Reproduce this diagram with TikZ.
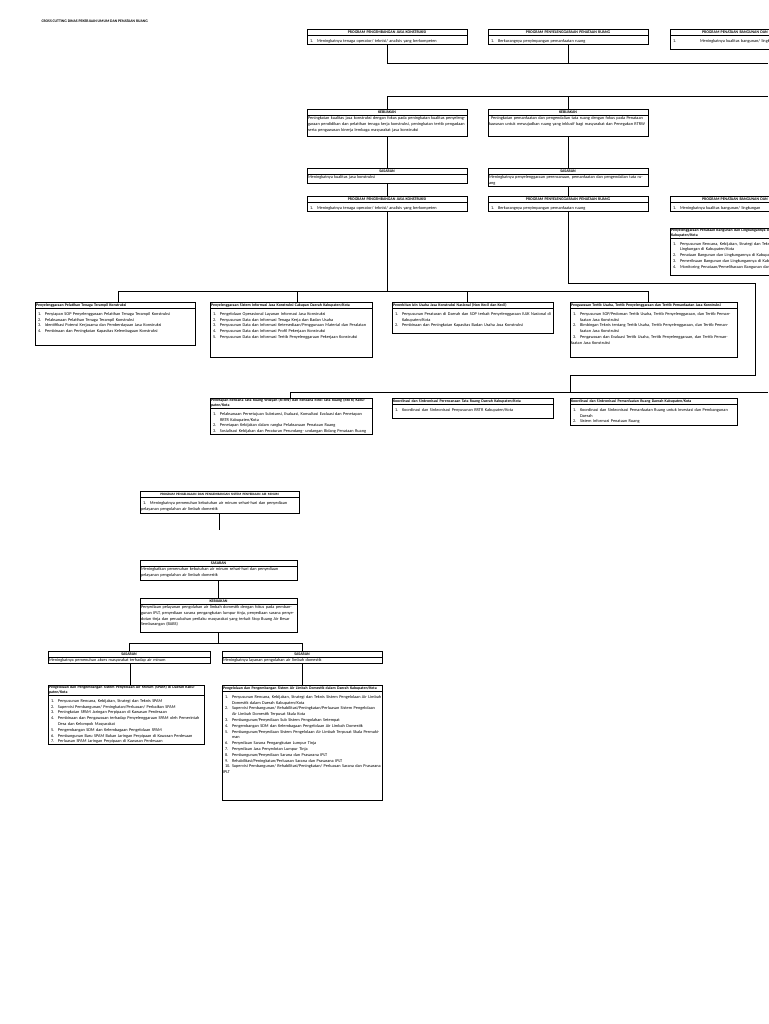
\documentclass[tikz,border=0pt]{standalone}
\usepackage{fontspec}
\usetikzlibrary{fit}
\setmainfont{Carlito}
\begin{document}
\begin{tikzpicture}[x=1pt,y=-1pt,
  every node/.style={font=\fontsize{4.3}{5.8}\selectfont},
  hdr/.style={draw,line width=0.5pt,inner sep=0.6pt,align=center,minimum height=6pt,font=\fontsize{3.9}{4.6}\selectfont\bfseries},
  hdl/.style={draw,line width=0.5pt,inner sep=0.8pt,align=left,minimum height=6pt,font=\fontsize{3.9}{4.8}\selectfont\bfseries},
  bod/.style={inner sep=0.8pt,align=left},
  frame/.style={draw,line width=0.7pt,inner sep=0pt},
  ln/.style={line width=0.8pt}]
\useasboundingbox (0,0) rectangle (768,1024);
\newcommand\itm[1]{\par\hangindent=9pt\hangafter=1\noindent\hspace{2pt}\makebox[7pt][l]{#1}}
\newcommand\bx[8]{%
 \node[#8,text width=#4pt-1.6pt,anchor=north west] (#1h) at (#2,#3) {#6};
 \node[bod,text width=#4pt-1.6pt,anchor=north west] (#1b) at (#1h.south west) {#7};
 \coordinate (#1c) at (#2+#4,#3+#5);
 \node[frame,fit=(#1h)(#1b)(#1c)] (#1) {};}
\node[anchor=west,font=\fontsize{3.8}{4}\selectfont\bfseries] (title) at (38,21) {CROSS CUTTING DINAS PEKERJAAN UMUM DAN PENATAAN RUANG};
\bx{a1}{307}{29}{160}{15}{PROGRAM PENGEMBANGAN JASA KONSTRUKSI}{\itm{1.}Meningkatnya tenaga operator/ teknisi/ analisis yang berkompeten}{hdr}
\bx{b1}{488}{29}{160}{15}{PROGRAM PENYELENGGARAAN PENATAAN RUANG}{\itm{1.}Berkurangnya penyimpangan pemanfaatan ruang}{hdr}
\bx{c1}{670}{29}{160}{20}{PROGRAM PENATAAN BANGUNAN DAN LINGKUNGANNYA}{\itm{1.}\hspace{20pt}Meningkatnya kualitas bangunan/ lingkungan}{hdr}
\coordinate (j1e) at (768,63);
\draw[ln] (a1.south) -- (a1.south |- j1e) -- (j1e); \draw[ln] (b1.south) -- (b1.south |- j1e);
\bx{ka}{307}{109}{160}{27}{KEBIJAKAN}{Peningkatan kualitas jasa konstruksi dengan fokus pada peningkatan kualitas penyelenggaraan pendidikan dan pelatihan tenaga kerja konstruksi, peningkatan tertib pengadaan serta pengawasan kinerja lembaga masyarakat jasa konstruksi}{hdr}
\bx{kb}{488}{109}{160}{27}{KEBIJAKAN}{\hspace{2pt}Peningkatan pemanfaatan dan pengendalian tata ruang dengan fokus pada Penataan kawasan untuk mewujudkan ruang yang inklusif bagi masyarakat dan Penegakan RTRW}{hdr}
\coordinate (j2e) at (768,96);
\draw[ln] (ka.north) -- (ka.north |- j2e) -- (j2e); \draw[ln] (kb.north) -- (kb.north |- j2e);
\bx{sa}{307}{168}{160}{15}{SASARAN}{Meningkatnya kualitas jasa konstruksi}{hdr}
\bx{sb}{488}{168}{160}{18}{SASARAN}{Meningkatnya penyelenggaraan perencanaan, pemanfaatan dan pengendalian tata ruang}{hdr}
\draw[ln] (ka.south) -- (sa.north); \draw[ln] (kb.south) -- (sb.north);
\bx{a2}{307}{196}{160}{12}{PROGRAM PENGEMBANGAN JASA KONSTRUKSI}{\itm{1.}Meningkatnya tenaga operator/ teknisi/ analisis yang berkompeten}{hdr}
\bx{b2}{488}{196}{160}{12}{PROGRAM PENYELENGGARAAN PENATAAN RUANG}{\itm{1.}Berkurangnya penyimpangan pemanfaatan ruang}{hdr}
\bx{c2}{670}{196}{160}{12}{PROGRAM PENATAAN BANGUNAN DAN LINGKUNGANNYA}{\itm{1.}Meningkatnya kualitas bangunan/ lingkungan}{hdr}
\draw[ln] (sa.south) -- (a2.north); \draw[ln] (sb.south) -- (b2.north);
\bx{c3}{670}{228}{160}{47}{Penyelenggaraan Penataan Bangunan dan Lingkungannya di\\Kabupaten/Kota}{\itm{1.}Penyusunan Rencana, Kebijakan, Strategi dan Teknis Pengembangan Bangunan dan Lingkungan di Kabupaten/Kota\itm{2.}Penataan Bangunan dan Lingkungannya di Kabupaten/Kota\itm{3.}Pemeriksaan Bangunan dan Lingkungannya di Kabupaten/Kota\itm{4.}Monitoring Penataan/Pemeliharaan Bangunan dan Lingkungannya}{hdl}
\bx{d1}{35}{302}{160}{43}{Penyelenggaraan Pelatihan Tenaga Terampil Konstruksi}{\itm{1.}Penyiapan SOP Penyelenggaraan Pelatihan Tenaga Terampil Konstruksi\itm{2.}Pelaksanaan Pelatihan Tenaga Terampil Konstruksi\itm{3.}Identifikasi Potensi Kerjasama dan Pemberdayaan Jasa Konstruksi\itm{4.}Pembinaan dan Peningkatan Kapasitas Kelembagaan Konstruksi}{hdl}
\bx{d2}{210}{302}{162}{55}{Penyelenggaraan Sistem Informasi Jasa Konstruksi Cakupan Daerah Kabupaten/Kota}{\itm{1.}Pengelolaan Operasional Layanan Informasi Jasa Konstruksi\itm{2.}Penyusunan Data dan Informasi Tenaga Kerja dan Badan Usaha\itm{3.}Penyusunan Data dan Informasi Ketersediaan/Penggunaan Material dan Peralatan\itm{4.}Penyusunan Data dan Informasi Profil Pekerjaan Konstruksi\itm{5.}Penyusunan Data dan Informasi Tertib Penyelenggaraan Pekerjaan Konstruksi}{hdl}
\bx{d3}{392}{302}{161}{31}{Penerbitan Izin Usaha Jasa Konstruksi Nasional (Non Kecil dan Kecil)}{\itm{1.}Penyusunan Peraturan di Daerah dan SOP terkait Penyelenggaraan IUJK Nasional di Kabupaten/Kota\itm{2.}Pembinaan dan Peningkatan Kapasitas Badan Usaha Jasa Konstruksi}{hdl}
\bx{d4}{570}{302}{167}{55}{Pengawasan Tertib Usaha, Tertib Penyelenggaraan dan Tertib Pemanfaatan Jasa Konstruksi}{\itm{1.}Penyusunan SOP/Pedoman Tertib Usaha, Tertib Penyelenggaraan, dan Tertib Pemanfaatan Jasa Konstruksi\itm{2.}Bimbingan Teknis tentang Tertib Usaha, Tertib Penyelenggaraan, dan Tertib Pemanfaatan Jasa Konstruksi\itm{3.}Pengawasan dan Evaluasi Tertib Usaha, Tertib Penyelenggaraan, dan Tertib Pemanfaatan Jasa Konstruksi}{hdl}
\coordinate (hd) at (389,291);
\coordinate (t1) at (118,302); \coordinate (t2) at (297,302); \coordinate (t3) at (467,302); \coordinate (t4) at (648,302);
\draw[ln] (a2.south) -- (a2.south |- hd);
\draw[ln] (t1) -- (t1 |- hd) -- (t4 |- hd) -- (t4);
\draw[ln] (t2) -- (t2 |- hd); \draw[ln] (t3) -- (t3 |- hd);
\coordinate (p2) at (755,283); \coordinate (p3) at (755,375); \coordinate (p4) at (570,375);
\coordinate (hr) at (570,392); \coordinate (hre) at (768,392); \coordinate (tr1) at (290,398);
\draw[ln] (b2.south) -- (b2.south |- p2) -- (p2) -- (p3) -- (p4) -- (hr);
\draw[ln] (tr1) -- (tr1 |- hr) -- (hre);
\bx{r1}{210}{398}{162}{32}{Penetapan Rencana Tata Ruang Wilayah (RTRW) dan Rencana Rinci Tata Ruang (RRTR) Kabupaten/Kota}{\itm{1.}Pelaksanaan Persetujuan Substansi, Evaluasi, Konsultasi Evaluasi dan Penetapan RRTR Kabupaten/Kota\itm{2.}Penetapan Kebijakan dalam rangka Pelaksanaan Penataan Ruang\itm{3.}Sosialisasi Kebijakan dan Peraturan Perundang- undangan Bidang Penataan Ruang}{hdl}
\bx{r2}{392}{398}{161}{20}{Koordinasi dan Sinkronisasi Perencanaan Tata Ruang Daerah Kabupaten/Kota}{\itm{1.}Koordinasi dan Sinkronisasi Penyusunan RRTR Kabupaten/Kota}{hdl}
\bx{r3}{570}{398}{167}{27}{Koordinasi dan Sinkronisasi Pemanfaatan Ruang Daerah Kabupaten/Kota}{\itm{1.}Koordinasi dan Sinkronisasi Pemanfaatan Ruang untuk Investasi dan Pembangunan Daerah\itm{2.}Sistem Informasi Penataan Ruang}{hdl}
\bx{e1}{140}{491}{159}{22}{{\fontsize{3.3}{4.6}\selectfont PROGRAM PENGELOLAAN DAN PENGEMBANGAN SISTEM PENYEDIAAN AIR MINUM}}{\itm{1.}Meningkatnya pemenuhan kebutuhan air minum sehari-hari dan penyediaan pelayanan pengolahan air limbah domestik}{hdr}
\coordinate (e1end) at (219,530);
\draw[ln] (e1.south) -- (e1.south |- e1end);
\bx{e2}{140}{560}{157}{20}{SASARAN}{Meningkatkan pemenuhan kebutuhan air minum sehari-hari dan penyediaan pelayanan pengolahan air limbah domestik}{hdr}
\bx{e3}{140}{598}{157}{34}{KEBIJAKAN}{Penyediaan pelayanan pengolahan air limbah domestik dengan fokus pada pembangunan IPLT, penyediaan sarana pengangkutan lumpur tinja, penyediaan sarana penyedotan tinja dan peruubahan perilaku masyarakat yang terkait Stop Buang Air Besar Sembarangan (BABS)}{hdr}
\draw[ln] (e2.south) -- (e3.north);
\bx{f1}{48}{651}{162}{12}{SASARAN}{Meningkatnya pemenuhan akses masyarakat terhadap air minum}{hdr}
\bx{f2}{222}{651}{160}{12}{SASARAN}{Meningkatnya layanan pengolahan air limbah domestik}{hdr}
\coordinate (hf) at (219,643);
\draw[ln] (e3.south) -- (e3.south |- hf);
\draw[ln] (f1.north) -- (f1.north |- hf) -- (f2.north |- hf) -- (f2.north);
\bx{g1}{48}{685}{156}{50}{Pengelolaan dan Pengembangan Sistem Penyediaan Air Minum (SPAM) di Daerah Kabupaten/Kota}{\itm{1.}Penyusunan Rencana, Kebijakan, Strategi dan Teknis SPAM\itm{2.}Supervisi Pembangunan/ Peningkatan/Perluasan/ Perbaikan SPAM\itm{3.}Peningkatan SPAM Jaringan Perpipaan di Kawasan Perdesaan\itm{4.}Pembinaan dan Pengawasan terhadap Penyelenggaraan SPAM oleh Pemerintah Desa dan Kelompok Masyarakat\itm{5.}Pengembangan SDM dan Kelembagaan Pengelolaan SPAM\itm{6.}Pembangunan Baru SPAM Bukan Jaringan Perpipaan di Kawasan Perdesaan\itm{7.}Perluasan SPAM Jaringan Perpipaan di Kawasan Perdesaan}{hdl}
\bx{g2}{222}{685}{160}{115}{Pengelolaan dan Pengembangan Sistem Air Limbah Domestik dalam Daerah Kabupaten/Kota}{\itm{1.}Penyusunan Rencana, Kebijakan, Strategi dan Teknis Sistem Pengelolaan Air Limbah Domestik dalam Daerah Kabupaten/Kota\itm{2.}Supervisi Pembangunan/ Rehabilitasi/Peningkatan/Perluasan Sistem Pengelolaan Air Limbah Domestik Terpusat Skala Kota\itm{3.}Pembangunan/Penyediaan Sub Sistem Pengolahan Setempat\itm{4.}Pengembangan SDM dan Kelembagaan Pengelolaan Air Limbah Domestik\itm{5.}Pembangunan/Penyediaan Sistem Pengelolaan Air Limbah Terpusat Skala Permukiman\itm{6.}Penyediaan Sarana Pengangkutan Lumpur Tinja\itm{7.}Penyediaan Jasa Penyedotan Lumpur Tinja\itm{8.}Pembangunan/Penyediaan Sarana dan Prasarana IPLT\itm{9.}Rehabilitasi/Peningkatan/Perluasan Sarana dan Prasarana IPLT\itm{10.}Supervisi Pembangunan/ Rehabilitasi/Peningkatan/ Perluasan Sarana dan Prasarana IPLT}{hdl}
\coordinate (g1t) at (130,685);
\draw[ln] (f1.south -| g1t) -- (g1t);
\draw[ln] (f2.south) -- (f2.south |- g2.north);
\end{tikzpicture}
\end{document}
